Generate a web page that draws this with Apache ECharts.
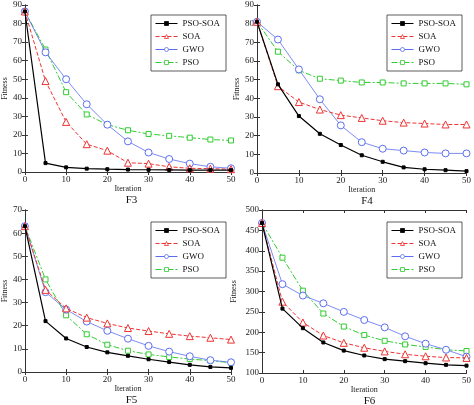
<!DOCTYPE html><html><head><meta charset="utf-8"><script src="https://cdn.jsdelivr.net/npm/echarts@6/dist/echarts.min.js"></script>
<style>body{margin:0;background:#fff}#c{width:474px;height:405px}</style></head><body><div id="c"></div><script>
const iterations=[0,5,10,15,20,25,30,35,40,45,50];
const names=['PSO-SOA','SOA','GWO','PSO'];
const titles=['F3','F4','F5','F6'];
const F3=[[86.5,4.8,2.5,1.8,1.5,1.3,1.2,1.1,1.0,1.0,1.0],[86.5,49,27,15,11.5,5,4.5,2.8,2,1.8,1.5],[86.5,64.5,50,36.5,25.5,16.5,10.5,7,4.5,2.8,2],[86.5,66,43,31,25.5,22.5,20.5,19.5,18.5,17.5,17]];
const F4=[[81,47.5,30.5,21,15,9.5,6,3,2,1.5,1],[81,46.5,38,34,31,29.5,28,27,26.5,26,26],[81,71.5,55.5,39.5,25.5,16.5,13,12,11,10.5,10.5],[81,65,55,50.5,49.5,48.5,48.5,48,48,48,47.5]];
const F5=[[63,22,14.5,10.8,8.5,7,5.5,4.3,3.1,2.2,1.8],[63,35.5,27.5,23.5,21,19,17.7,16.5,15.5,14.8,14],[63,34.5,27,21.8,17.8,14.4,11.3,8.8,6.8,5.1,4.2],[63,40,24.5,16.3,11.8,9.2,7.6,6.5,5.6,4.9,4]];
const F6=[[468,258,210,175,155,143,134,129,124,120,118],[468,275,224,192,174,162,153,146,141,138,137],[468,318,290,271,250,230,212,190,172,157,140],[468,383,302,246,214,193,179,170,164,157,154]];
const yRanges=[[0,90,10],[0,90,10],[0,70,10],[100,500,50]];
const data=[F3,F4,F5,F6];
const grids=[{left:22,top:5,width:209,height:167},{left:257,top:5,width:210,height:168},{left:22,top:210,width:209,height:162},{left:262,top:210,width:205,height:163}];
const styles=[
 {color:'#000',type:'solid',symbol:'rect',size:3,fill:'#000',w:1.2},
 {color:'#ee3333',type:'dashed',symbol:'triangle',size:7,fill:'#fff',w:1},
 {color:'#5b6ef0',type:'solid',symbol:'circle',size:7,fill:'#fff',w:0.8},
 {color:'#33cc33',type:[6,2,2,2],symbol:'rect',size:5,fill:'#fff',w:1}];
const font='Liberation Serif';
const option={animation:false,textStyle:{fontFamily:font},grid:grids,xAxis:[],yAxis:[],series:[],legend:[],title:[]};
grids.forEach((g,i)=>{
 option.xAxis.push({gridIndex:i,type:'value',min:0,max:50,interval:10,name:'Iteration',nameLocation:'middle',nameGap:13,nameTextStyle:{fontSize:8,fontFamily:font,color:'#222'},
  axisLine:{lineStyle:{color:'#333'}},axisTick:{inside:true,length:3},axisLabel:{fontSize:9,margin:3,color:'#222',fontFamily:font},splitLine:{show:false}});
 option.xAxis.push({gridIndex:i,type:'value',min:0,max:50,interval:10,position:'top',axisLine:{lineStyle:{color:'#333'}},axisTick:{inside:true,length:3},axisLabel:{show:false},splitLine:{show:false}});
 const r=yRanges[i];
 option.yAxis.push({gridIndex:i,type:'value',min:r[0],max:r[1],interval:r[2],name:'Fitness',nameLocation:'middle',nameGap:i==3?24:15,nameTextStyle:{fontSize:8,fontFamily:font,color:'#222'},
  axisLine:{show:true,lineStyle:{color:'#333'}},axisTick:{inside:true,length:3},axisLabel:{fontSize:9,margin:3,color:'#222',fontFamily:font},splitLine:{show:false}});
 option.yAxis.push({gridIndex:i,type:'value',min:r[0],max:r[1],interval:r[2],position:'right',axisLine:{show:true,lineStyle:{color:'#333'}},axisTick:{inside:true,length:3},axisLabel:{show:false},splitLine:{show:false}});
 names.forEach((n,k)=>{
  const s=styles[k];
  option.series.push({name:n,type:'line',xAxisIndex:2*i,yAxisIndex:2*i,data:iterations.map((x,j)=>[x,data[i][k][j]]),
   symbol:s.symbol,symbolSize:s.size,showAllSymbol:true,lineStyle:{color:s.color,type:s.type,width:s.w},itemStyle:{color:s.fill,borderColor:s.color,borderWidth:1},z:10-k});
 });
 option.legend.push({data:names.map((n,k)=>({name:n,itemStyle:{borderWidth:0.8},lineStyle:{width:1}})),orient:'vertical',right:474-(g.left+g.width)+5,top:g.top+(i<2?10:12),itemWidth:22,itemHeight:5,itemGap:4,
  backgroundColor:'#fff',borderColor:'#333',borderWidth:0.8,padding:[4,6,4,4],textStyle:{fontSize:9,fontFamily:font,color:'#111'},
  selectedMode:false});
 option.title.push({text:titles[i],left:g.left+g.width/2,textAlign:'center',top:g.top+g.height+18,textStyle:{fontSize:11,fontWeight:'normal',fontFamily:font,color:'#111'}});
});
echarts.init(document.getElementById('c')).setOption(option);
</script></body></html>
